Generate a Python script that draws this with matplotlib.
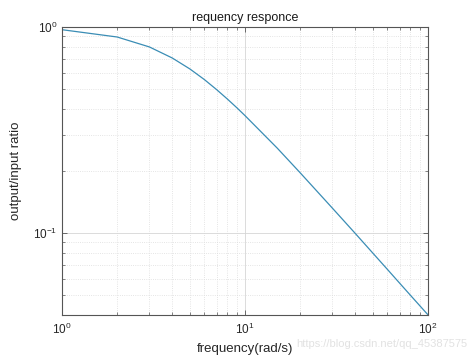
import matplotlib
matplotlib.use("Agg")
import matplotlib.pyplot as plt

plt.rcParams['font.family'] = ['Liberation Sans', 'DejaVu Sans']
plt.rcParams['mathtext.fontset'] = 'custom'
plt.rcParams['mathtext.rm'] = 'Liberation Sans'
plt.rcParams['mathtext.it'] = 'Liberation Sans:italic'

# data
freq = [1, 2, 3, 4, 5, 6, 7, 8, 9, 10, 15, 20, 30, 40, 50, 60, 70, 80, 90, 100]
ratio = [0.970, 0.894, 0.800, 0.707, 0.625, 0.555, 0.496, 0.447, 0.406, 0.371,
         0.258, 0.196, 0.132, 0.0995, 0.0797, 0.0665, 0.0570, 0.0499, 0.0444, 0.0400]
title = "requency responce"
xlabel = "frequency(rad/s)"
ylabel = "output/input ratio"
watermark = "https://blog.csdn.net/qq_45387575"

fig = plt.figure(figsize=(4.74, 3.55), dpi=100)
ax = fig.add_axes([0.131, 0.113, 0.772, 0.811])
ax.loglog(freq, ratio, color='#3a8db5', lw=0.9)
ax.set_xlim(1, 100)
ax.set_ylim(0.04, 1.0)

ax.grid(True, which='major', color='#d6d6d6', lw=0.6, ls='-')
ax.grid(True, which='minor', color='#dcdcdc', lw=0.6, ls=':')
ax.set_axisbelow(True)

for s in ax.spines.values():
    s.set_color('#555555')
    s.set_linewidth(0.8)
ax.tick_params(which='both', direction='in', top=True, right=True,
               colors='#555555', labelcolor='#262626', labelsize=8.5)
ax.tick_params(which='major', length=3.5, width=0.6)
ax.tick_params(which='minor', length=2, width=0.5)
ax.tick_params(axis='x', pad=5)

ax.set_title(title, fontsize=9, color='#1a1a1a', pad=4)
ax.set_xlabel(xlabel, fontsize=9.5, color='#262626', labelpad=4)
ax.set_ylabel(ylabel, fontsize=9.5, color='#262626', labelpad=8)

fig.text(0.985, 0.030, watermark, ha='right', va='center', fontsize=8,
         color='#e2e2e2')

fig.savefig("out.png", dpi=100, facecolor='white')
